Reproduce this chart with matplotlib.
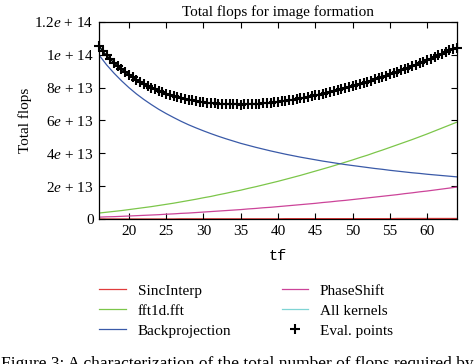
import numpy as np
import matplotlib
matplotlib.use('Agg')
import matplotlib.pyplot as plt
from matplotlib.ticker import FixedLocator, FuncFormatter

matplotlib.rcParams.update({'font.family': 'Liberation Serif', 'font.size': 11,
                            'mathtext.fontset': 'custom',
                            'mathtext.rm': 'Liberation Serif',
                            'mathtext.it': 'Liberation Serif:italic'})

# tf values and flops (units of 1e13)
tf = np.arange(16, 65)
sinc = [0.01, 0.01, 0.01, 0.01, 0.01, 0.01, 0.01, 0.01, 0.01, 0.01,
        0.01, 0.02, 0.02, 0.02, 0.02, 0.02, 0.02, 0.02, 0.02, 0.02,
        0.02, 0.02, 0.02, 0.02, 0.02, 0.03, 0.03, 0.03, 0.03, 0.03,
        0.03, 0.03, 0.03, 0.03, 0.03, 0.03, 0.03, 0.03, 0.03, 0.03,
        0.04, 0.04, 0.04, 0.04, 0.04, 0.04, 0.04, 0.04, 0.04]
fft = [0.37, 0.42, 0.47, 0.52, 0.58, 0.64, 0.70, 0.76, 0.83, 0.90,
       0.97, 1.05, 1.13, 1.21, 1.30, 1.38, 1.48, 1.57, 1.67, 1.76,
       1.87, 1.97, 2.08, 2.19, 2.30, 2.42, 2.54, 2.66, 2.79, 2.92,
       3.05, 3.18, 3.32, 3.46, 3.60, 3.75, 3.89, 4.05, 4.20, 4.36,
       4.52, 4.68, 4.84, 5.01, 5.18, 5.36, 5.54, 5.72, 5.90]
backproj = [9.98, 9.39, 8.88, 8.42, 8.00, 7.62, 7.28, 6.97, 6.68, 6.42,
            6.18, 5.95, 5.74, 5.55, 5.37, 5.20, 5.04, 4.89, 4.75, 4.61,
            4.49, 4.37, 4.26, 4.15, 4.05, 3.95, 3.86, 3.77, 3.69, 3.61,
            3.53, 3.46, 3.39, 3.32, 3.26, 3.20, 3.14, 3.08, 3.03, 2.97,
            2.92, 2.87, 2.82, 2.78, 2.73, 2.69, 2.65, 2.61, 2.57]
phase = [0.12, 0.14, 0.15, 0.17, 0.19, 0.21, 0.23, 0.25, 0.27, 0.30,
         0.32, 0.35, 0.37, 0.40, 0.43, 0.46, 0.49, 0.52, 0.55, 0.58,
         0.62, 0.65, 0.69, 0.72, 0.76, 0.80, 0.84, 0.88, 0.92, 0.96,
         1.01, 1.05, 1.10, 1.14, 1.19, 1.24, 1.29, 1.34, 1.39, 1.44,
         1.49, 1.55, 1.60, 1.66, 1.71, 1.77, 1.83, 1.89, 1.95]
allk = [10.48, 9.96, 9.51, 9.12, 8.78, 8.48, 8.22, 7.99, 7.79, 7.63,
        7.48, 7.37, 7.26, 7.18, 7.12, 7.06, 7.03, 7.00, 6.99, 6.97,
        7.00, 7.01, 7.05, 7.09, 7.13, 7.20, 7.26, 7.34, 7.43, 7.52,
        7.62, 7.72, 7.84, 7.95, 8.08, 8.22, 8.35, 8.50, 8.66, 8.80,
        8.97, 9.14, 9.30, 9.49, 9.66, 9.86, 10.06, 10.26, 10.46]

# evaluation points, every half step of tf
eval_tf = np.arange(16, 64.5, 0.5)
eval_flops = [10.55, 10.21, 9.96, 9.73, 9.51, 9.31, 9.12, 8.95, 8.78, 8.63,
              8.48, 8.35, 8.22, 8.10, 7.99, 7.89, 7.79, 7.71, 7.63, 7.55,
              7.48, 7.42, 7.37, 7.31, 7.26, 7.22, 7.18, 7.15, 7.12, 7.09,
              7.06, 7.04, 7.03, 7.01, 7.00, 6.99, 6.99, 6.98, 6.97, 6.98,
              7.00, 7.00, 7.01, 7.03, 7.05, 7.07, 7.09, 7.11, 7.13, 7.16,
              7.20, 7.23, 7.26, 7.30, 7.34, 7.38, 7.43, 7.47, 7.52, 7.57,
              7.62, 7.67, 7.72, 7.78, 7.84, 7.89, 7.95, 8.01, 8.08, 8.15,
              8.22, 8.28, 8.35, 8.42, 8.50, 8.58, 8.66, 8.73, 8.80, 8.88,
              8.97, 9.05, 9.14, 9.22, 9.30, 9.39, 9.49, 9.57, 9.66, 9.76,
              9.86, 9.96, 10.06, 10.16, 10.26, 10.36, 10.40]

fig = plt.figure(figsize=(4.74, 3.64), dpi=100)
ax = fig.add_axes([0.209, 0.398, 0.755, 0.542])

s = 1e13
ax.plot(tf, np.array(sinc)*s, c='#e03c3c', lw=0.9, label='SincInterp', zorder=1)
ax.plot(tf, np.array(fft)*s, c='#7cc64a', lw=0.9, label='fft1d.fft')
ax.plot(tf, np.array(backproj)*s, c='#3a5aa8', lw=0.9, label='Backprojection')
ax.plot(tf, np.array(phase)*s, c='#cc4499', lw=0.9, label='PhaseShift')
ax.plot(tf, np.array(allk)*s, c='#7fd4d4', lw=0.9, label='All kernels')
ax.plot(eval_tf, np.array(eval_flops)*s, c='k', lw=1.0)
ax.plot(eval_tf, np.array(eval_flops)*s, 'k+', ms=7.5, mew=1.5, ls='none',
        label='Eval. points', clip_on=False)

ax.set_xlim(16, 64)
ax.set_ylim(0, 1.2e14)
ax.xaxis.set_major_locator(FixedLocator(range(20, 61, 5)))
ax.yaxis.set_major_locator(FixedLocator(np.arange(0, 1.21e14, 2e13)))

def yfmt(v, pos):
    if v == 0:
        return '0'
    m = v/1e14
    if m >= 1:
        mant, ex = m, 14
    else:
        mant, ex = m*10, 13
    ms = ('%g' % round(mant, 1))
    return ms + r'$\it{e}$ + ' + str(ex)

ax.yaxis.set_major_formatter(FuncFormatter(yfmt))
ax.tick_params(direction='in', top=True, right=True, length=4, width=0.8,
               labelsize=11, pad=4)
for sp in ax.spines.values():
    sp.set_linewidth(0.9)

ax.set_title('Total flops for image formation', fontsize=11, pad=4)
ax.set_ylabel('Total flops', fontsize=11, labelpad=2)
ax.set_xlabel('tf', family='Liberation Mono', fontsize=11, labelpad=8)

fig.legend(loc='upper left', bbox_to_anchor=(0.197, 0.237), ncol=2, frameon=False,
           fontsize=11, handlelength=1.75, labelspacing=0.42, columnspacing=3.3,
           borderaxespad=0, handletextpad=0.75)

fig.text(0.003, 0.022, 'Figure 3: A characterization of the total number of flops required by the',
         fontsize=12.5, va='top', ha='left')

fig.savefig('out.png', dpi=100)
